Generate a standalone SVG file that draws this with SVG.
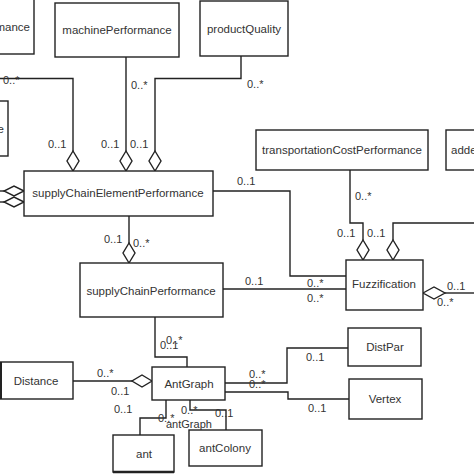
<svg xmlns="http://www.w3.org/2000/svg" width="474" height="474" viewBox="0 0 474 474">
<defs>
<style>
.b{fill:#fff;stroke:#222;stroke-width:1.4}
.t{font-family:"Liberation Sans",Arial,sans-serif;font-size:11.5px;fill:#333;text-anchor:middle}
.l{font-family:"Liberation Sans",Arial,sans-serif;font-size:11px;fill:#333}
.c{fill:none;stroke:#222;stroke-width:1.4}
.d{fill:#fff;stroke:#222;stroke-width:1.4}
</style>
</defs>
<rect width="474" height="474" fill="#fff"/>
<g id="connectors">
<polyline class="c" points="0,78.5 73,78.5 73,151"/>
<polyline class="c" points="126,57 126,151"/>
<polyline class="c" points="241,56 241,78.5 155,78.5 155,151"/>
<line class="c" x1="0" y1="191" x2="5" y2="191"/>
<line class="c" x1="0" y1="202" x2="5" y2="202"/>
<polyline class="c" points="213,191 290,191 290,276 346,276"/>
<polyline class="c" points="129,216 129,243"/>
<line class="c" x1="223" y1="289" x2="346" y2="289"/>
<polyline class="c" points="350,170 350,223 363,223 363,240"/>
<polyline class="c" points="474,223 393,223 393,240"/>
<line class="c" x1="445" y1="293" x2="474" y2="293"/>
<polyline class="c" points="155,317 155,357 187,357 187,367"/>
<line class="c" x1="73" y1="381" x2="132" y2="381"/>
<polyline class="c" points="166,400 166,418 140,418 140,435"/>
<polyline class="c" points="190,400 190,410 226,410 226,430"/>
<polyline class="c" points="225,383 287,383 287,348 348,348"/>
<polyline class="c" points="225,392 288,392 288,399 349,399"/>
<polygon class="d" points="73,171 67,161 73,151 79,161"/>
<polygon class="d" points="126,171 120,161 126,151 132,161"/>
<polygon class="d" points="155,171 149,161 155,151 161,161"/>
<polygon class="d" points="24,191 14,186 4,191 14,196"/>
<polygon class="d" points="24,202 14,197 4,202 14,207"/>
<polygon class="d" points="129,263 123,253 129,243 135,253"/>
<polygon class="d" points="363,260 357,250 363,240 369,250"/>
<polygon class="d" points="393,260 387,250 393,240 399,250"/>
<polygon class="d" points="423,293 434,287 445,293 434,299"/>
<polygon class="d" points="152,381 142,375 132,381 142,387"/>
<text class="l" x="3" y="84">0..*</text>
<text class="l" x="48" y="148">0..1</text>
<text class="l" x="131" y="89">0..*</text>
<text class="l" x="101" y="148">0..1</text>
<text class="l" x="247" y="88">0..*</text>
<text class="l" x="130" y="148">0..1</text>
<text class="l" x="237" y="185">0..1</text>
<text class="l" x="307" y="287">0..*</text>
<text class="l" x="104" y="243">0..1</text>
<text class="l" x="133" y="247">0..*</text>
<text class="l" x="245" y="285">0..1</text>
<text class="l" x="307" y="302">0..*</text>
<text class="l" x="355" y="200">0..*</text>
<text class="l" x="337" y="237">0..1</text>
<text class="l" x="367" y="237">0..1</text>
<text class="l" x="447" y="290">0..1</text>
<text class="l" x="437" y="306">0..*</text>
<text class="l" x="166" y="344">0..*</text>
<text class="l" x="160" y="349">0..1</text>
<text class="l" x="97" y="377">0..*</text>
<text class="l" x="111" y="395">0..1</text>
<text class="l" x="114" y="413">0..1</text>
<text class="l" x="158" y="422">0..*</text>
<text class="l" x="166" y="428">antGraph</text>
<text class="l" x="181" y="414">0..*</text>
<text class="l" x="215" y="417">0..1</text>
<text class="l" x="249" y="378">0..*</text>
<text class="l" x="306" y="361">0..1</text>
<text class="l" x="249" y="388">0..*</text>
<text class="l" x="308" y="412">0..1</text>
</g>
<g id="n_perf"><rect class="b" x="-10" y="-10" width="44" height="64"/><text class="t" x="30" y="31" style="text-anchor:end">rformance</text></g>
<g id="n_machine"><rect class="b" x="55" y="3" width="124" height="54"/><text class="t" x="117" y="34">machinePerformance</text></g>
<g id="n_quality"><rect class="b" x="200" y="1" width="88" height="55"/><text class="t" x="244" y="33">productQuality</text></g>
<g id="n_e"><rect class="b" x="-10" y="101" width="18" height="55"/><text class="t" x="4" y="133" style="text-anchor:end">e</text></g>
<g id="n_scep"><rect class="b" x="24" y="171" width="189" height="45"/><text class="t" x="118" y="197">supplyChainElementPerformance</text></g>
<g id="n_tcp"><rect class="b" x="256" y="130" width="172" height="40"/><text class="t" x="342" y="154">transportationCostPerformance</text></g>
<g id="n_adde"><rect class="b" x="446" y="130" width="40" height="40"/><text class="t" x="451" y="154" style="text-anchor:start">adde</text></g>
<g id="n_scp"><rect class="b" x="80" y="263" width="143" height="54"/><text class="t" x="151" y="295">supplyChainPerformance</text></g>
<g id="n_fuzz"><rect class="b" x="346" y="260" width="77" height="50"/><text class="t" x="384" y="288">Fuzzification</text></g>
<g id="n_antgraph"><rect class="b" x="152" y="367" width="73" height="33"/><text class="t" x="189" y="388">AntGraph</text></g>
<g id="n_distance"><rect class="b" x="0" y="362" width="73" height="37"/><line x1="1" y1="362" x2="1" y2="399" stroke="#222" stroke-width="2"/><text class="t" x="36" y="385">Distance</text></g>
<g id="n_distpar"><rect class="b" x="348" y="328" width="73" height="38"/><text class="t" x="385" y="351">DistPar</text></g>
<g id="n_vertex"><rect class="b" x="349" y="379" width="73" height="40"/><text class="t" x="385" y="403">Vertex</text></g>
<g id="n_ant"><rect class="b" x="113" y="435" width="61" height="37"/><line x1="113" y1="472" x2="174" y2="472" stroke="#222" stroke-width="2.5"/><text class="t" x="144" y="458">ant</text></g>
<g id="n_antcolony"><rect class="b" x="189" y="430" width="73" height="36"/><text class="t" x="225" y="452">antColony</text></g>
</svg>
